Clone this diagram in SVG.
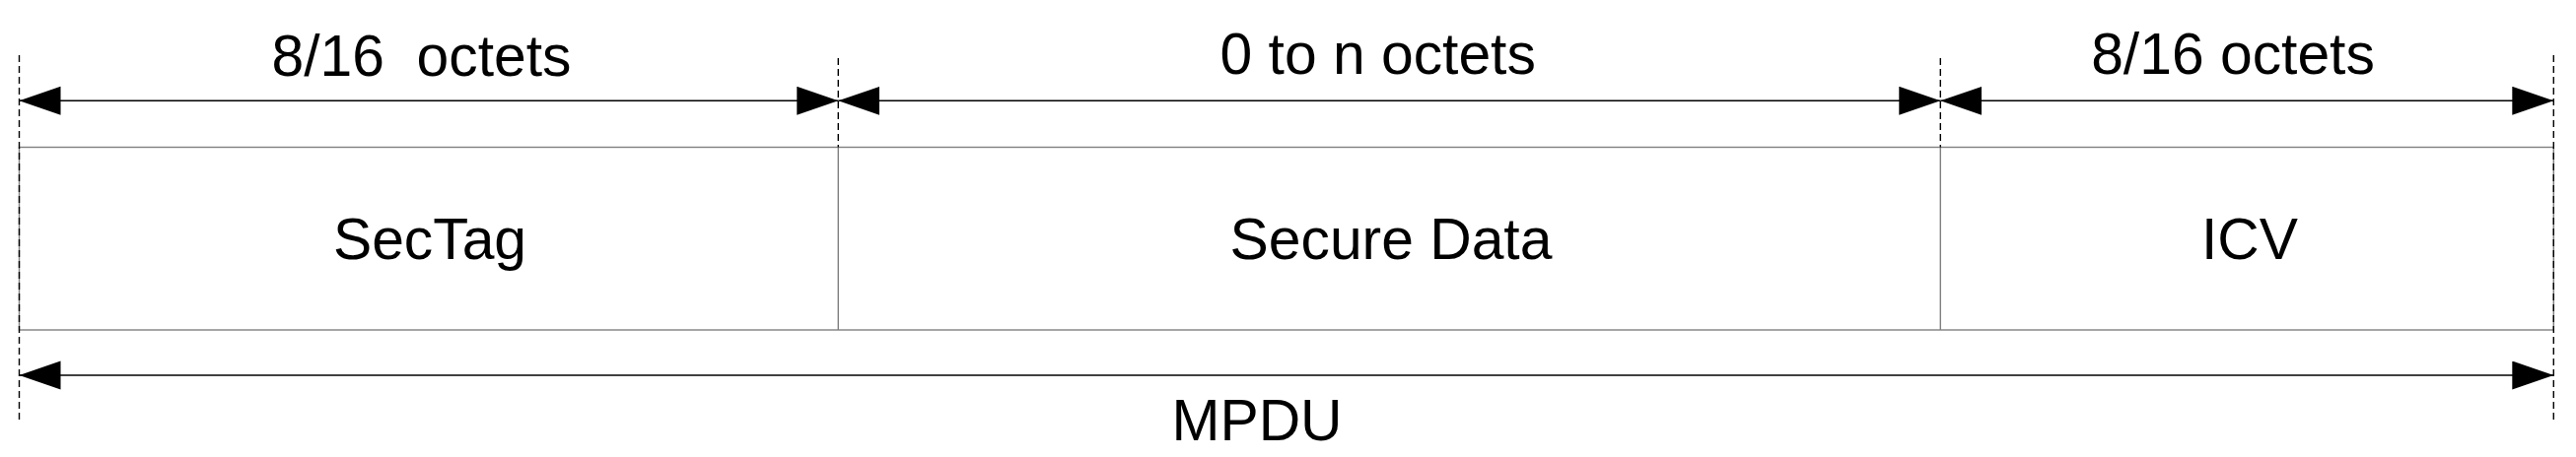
<svg xmlns="http://www.w3.org/2000/svg" width="2613" height="464" viewBox="0 0 2613 464">
<style>
  .lbl { font-family: "Liberation Sans", Arial, sans-serif; font-size: 58.8px; fill: #000; text-anchor: middle; }
  .dash { stroke: #000; stroke-width: 1.4; stroke-dasharray: 7 4; fill: none; }
  .box { fill: #fff; stroke: #808080; stroke-width: 1.4; }
  .div { stroke: #808080; stroke-width: 1.4; }
  .arr { stroke: #000; stroke-width: 1.4; fill: none; marker-start: url(#ah); marker-end: url(#ah); }
</style>
<defs>
  <marker id="ah" markerUnits="userSpaceOnUse" markerWidth="44" markerHeight="30" refX="42" refY="14.5" orient="auto-start-reverse">
    <path d="M0,0 L42,14.5 L0,29 z" fill="#000"/>
  </marker>
</defs>
<rect width="2613" height="464" fill="#fff"/>
<g id="frame">
  <rect class="box" x="19.5" y="149.5" width="2570.8" height="185.5"/>
</g>
<g id="sectag">
  <text class="lbl" x="436" y="263">SecTag</text>
</g>
<g id="securedata">
  <line class="div" x1="850.3" y1="149.5" x2="850.3" y2="335"/>
  <text class="lbl" x="1411" y="263">Secure Data</text>
</g>
<g id="icv">
  <line class="div" x1="1968.3" y1="149.5" x2="1968.3" y2="335"/>
  <text class="lbl" x="2282" y="263">ICV</text>
</g>
<g id="guides">
  <line class="dash" x1="19.5" y1="56" x2="19.5" y2="428"/>
  <line class="dash" x1="2590.3" y1="56" x2="2590.3" y2="428"/>
  <line class="dash" x1="850.3" y1="59" x2="850.3" y2="149.5"/>
  <line class="dash" x1="1968.3" y1="59" x2="1968.3" y2="149.5"/>
</g>
<g id="connectors">
  <line class="arr" x1="19.5" y1="102.3" x2="850.3" y2="102.3"/>
  <line class="arr" x1="850.3" y1="102.3" x2="1968.3" y2="102.3"/>
  <line class="arr" x1="1968.3" y1="102.3" x2="2590.3" y2="102.3"/>
  <line class="arr" x1="19.5" y1="381" x2="2590.3" y2="381"/>
</g>
<g id="labels">
  <text class="lbl" x="427.5" y="76.7" xml:space="preserve">8/16  octets</text>
  <text class="lbl" x="1397.7" y="75">0 to n octets</text>
  <text class="lbl" x="2265" y="75">8/16 octets</text>
  <text class="lbl" x="1275" y="447.3">MPDU</text>
</g>
</svg>
